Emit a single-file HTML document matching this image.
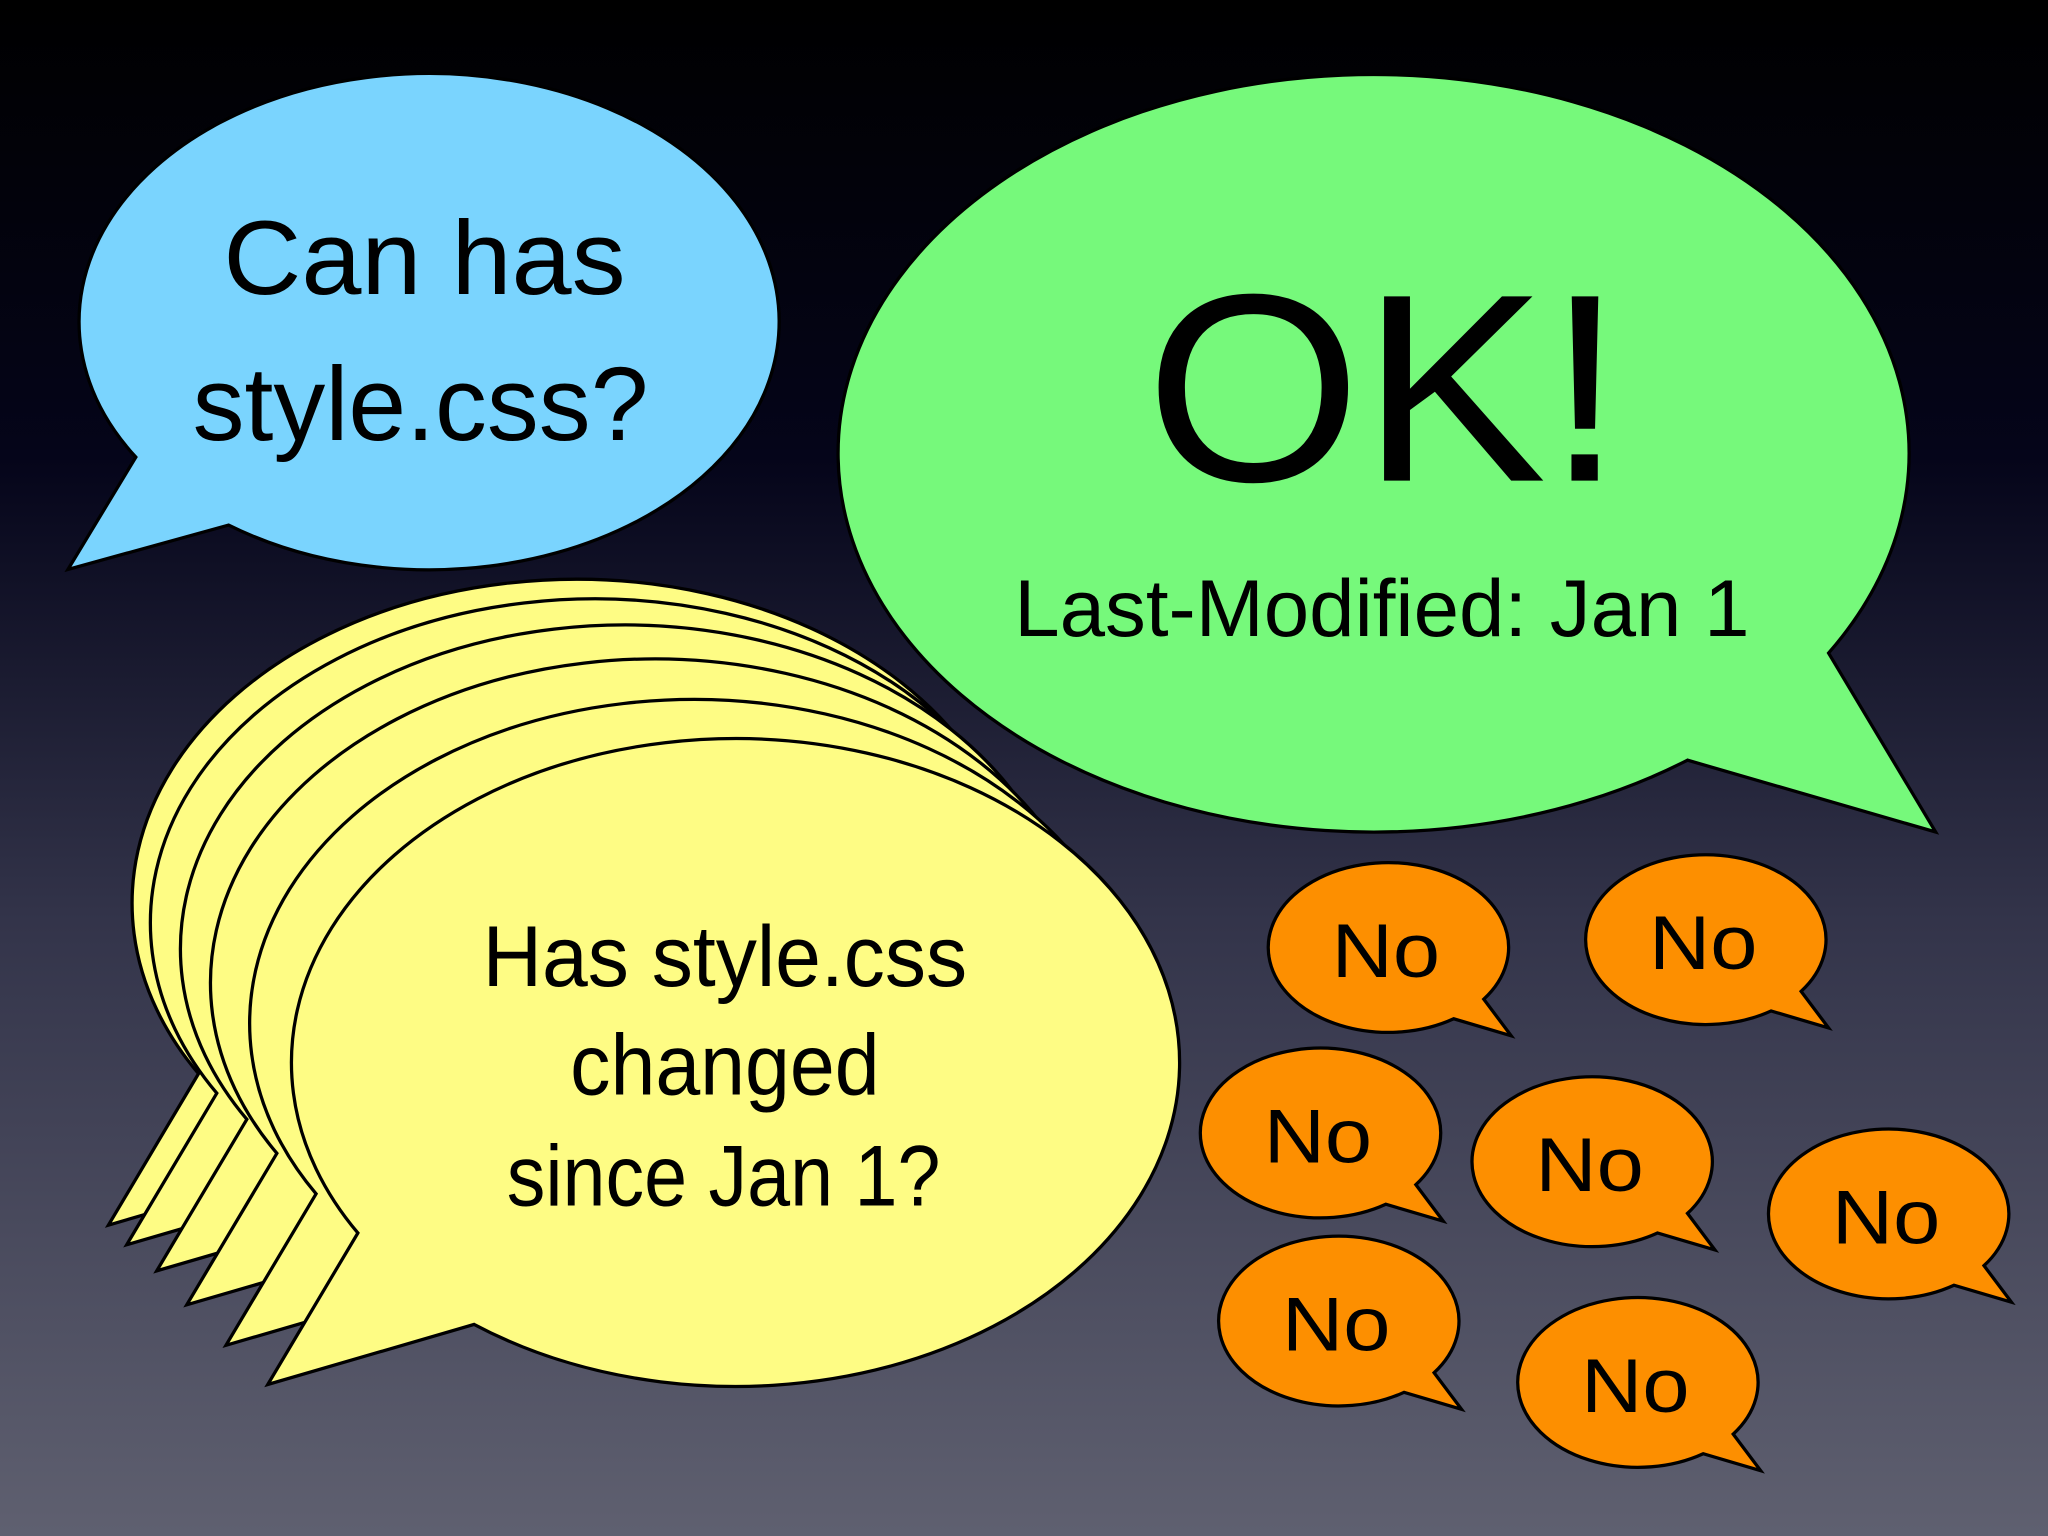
<!DOCTYPE html>
<html><head><meta charset="utf-8"><style>html,body{margin:0;padding:0;background:#000}svg{display:block}</style></head>
<body>
<svg width="2048" height="1536" viewBox="0 0 1568 1176" xmlns="http://www.w3.org/2000/svg" font-family="'Liberation Sans', sans-serif">
<defs>
<linearGradient id="bg" x1="0" y1="0" x2="0" y2="1">
<stop offset="0" stop-color="#000000"/>
<stop offset="0.3" stop-color="#05051a"/>
<stop offset="0.6" stop-color="#33344a"/>
<stop offset="1" stop-color="#5f6070"/>
</linearGradient>
<g id="yb">
<path d="M274,944 L205,1060 L363,1014 A340,248 0 1 0 274,944 Z" fill="#fefc84" stroke="#000" stroke-width="2.5"/>
</g>
<g id="no">
<path d="M77,37 L98,65 L54,52 A92,65 0 1 1 77,37 Z" fill="#fd8f00" stroke="#000" stroke-width="2.5"/>
<text x="2" y="20" font-size="58" text-anchor="middle" textLength="83" lengthAdjust="spacingAndGlyphs">No</text>
</g>
</defs>
<rect width="1568" height="1176" fill="url(#bg)"/>
<!-- blue -->
<path d="M104,350 L52,436 L175,402 A268,190 0 1 0 104,350 Z" fill="#7ad4fe" stroke="#000" stroke-width="2.5"/>
<text x="325" y="225" font-size="80" text-anchor="middle" textLength="308" lengthAdjust="spacingAndGlyphs">Can has</text>
<text x="322" y="337" font-size="80" text-anchor="middle" textLength="349" lengthAdjust="spacingAndGlyphs">style.css?</text>
<!-- green -->
<path d="M1400,500 L1482,637 L1292,582 A410,290 0 1 1 1400,500 Z" fill="#76f97b" stroke="#000" stroke-width="2.5"/>
<text x="1060" y="368" font-size="205" text-anchor="middle" textLength="366" lengthAdjust="spacingAndGlyphs">OK!</text>
<text x="1058" y="487" font-size="62" text-anchor="middle" textLength="563" lengthAdjust="spacingAndGlyphs">Last-Modified: Jan 1</text>
<!-- yellow stack -->
<use href="#yb" transform="translate(-122,-122)"/>
<use href="#yb" transform="translate(-108,-107)"/>
<use href="#yb" transform="translate(-85,-87)"/>
<use href="#yb" transform="translate(-62,-61)"/>
<use href="#yb" transform="translate(-32,-30)"/>
<use href="#yb"/>
<text x="555" y="755" font-size="66" text-anchor="middle" textLength="371" lengthAdjust="spacingAndGlyphs">Has style.css</text>
<text x="555" y="838" font-size="66" text-anchor="middle" textLength="237" lengthAdjust="spacingAndGlyphs">changed</text>
<text x="554" y="923" font-size="66" text-anchor="middle" textLength="332" lengthAdjust="spacingAndGlyphs">since Jan 1?</text>
<!-- No bubbles -->
<use href="#no" transform="translate(1059,728)"/>
<use href="#no" transform="translate(1302,722)"/>
<use href="#no" transform="translate(1007,870)"/>
<use href="#no" transform="translate(1215,892)"/>
<use href="#no" transform="translate(1442,932)"/>
<use href="#no" transform="translate(1021,1014)"/>
<use href="#no" transform="translate(1250,1061)"/>
</svg>
</body></html>
